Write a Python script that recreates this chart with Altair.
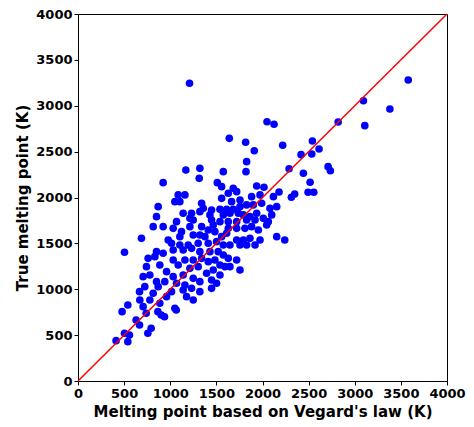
import altair as alt
import pandas as pd

# Melting point based on Vegard's law (K)
vegard_x = [
    # sparse upper / right points
    1209, 2049, 2125, 1640, 1817, 1911,
    3580, 3094, 3381, 3109, 2820, 2219, 2541, 2613, 2418, 2534, 2288, 2711, 2736, 2443,
    2516, 2179, 2494, 2556, 2313, 2349, 2241,
    # lower-left points
    667, 540, 478, 739, 866, 902, 938, 630, 667, 1065, 504, 558, 413, 540, 757, 793, 504,
    # dense core
    1828, 1169, 1321, 1575, 1821, 923, 1314, 1510, 1557, 1683, 1937, 2016, 1720, 1629,
    1086, 1159, 1557, 1104, 1050, 1665, 1756, 1882, 1973, 2118, 1340, 1358, 1448, 1539,
    1611, 1683, 1756, 1828, 1900, 1991, 2081, 2154, 869, 1140, 1231, 1321, 1430, 1575,
    1647, 1738, 1792, 1864, 1937, 2009, 2100, 851, 1068, 1213, 1249, 1448, 1466, 1539,
    1629, 1720, 1828, 1919, 2063, 815, 923, 1032, 1122, 1213, 1340, 1412, 1484, 1629,
    1720, 1810, 1882, 1955, 2045, 2154, 688, 978, 1104, 1249, 1321, 1376, 1557, 1611,
    1720, 1792, 1864, 1919, 1973, 851, 1014, 1104, 1195, 1303, 1412, 1502, 1575, 1647,
    1756, 1828, 760, 833, 923, 1032, 1140, 1231, 1321, 1430, 1520, 1575, 1629, 1720,
    1756, 1647, 742, 887, 1032, 1086, 1159, 1249, 1340, 1412, 1484, 1539, 1593, 706,
    960, 1032, 1140, 1213, 1303, 1394, 1466, 1539, 779, 851, 941, 1068, 1159, 1249,
    1321, 1448, 1502, 724, 815, 1014, 1140, 1231, 1321, 1448, 670, 706, 779, 887, 960,
    1050, 1177, 1249, 869,
]

# True melting point (K)
true_y = [
    3245, 2826, 2798, 2645, 2602, 2510,
    3281, 3055, 2965, 2783, 2823, 2569, 2616, 2529, 2467, 2474, 2314, 2336, 2292, 2264,
    2166, 2060, 2057, 2057, 2002, 2038, 1537,
    974, 829, 756, 738, 756, 720, 701, 665, 611, 774, 520, 502, 440, 429, 520, 574, 1403,
    2391, 2300, 2318, 2282, 2282, 2162, 2209, 2162, 2118, 2100, 2126, 2111, 2064, 2046,
    2028, 2028, 1991, 1955, 1955, 1955, 1973, 2009, 2028, 2009, 1937, 1882, 1864, 1871,
    1871, 1871, 1900, 1919, 1919, 1937, 1882, 1900, 1900, 1828, 1828, 1846, 1810, 1810,
    1828, 1828, 1810, 1791, 1828, 1773, 1810, 1791, 1737, 1773, 1755, 1755, 1701, 1737,
    1737, 1737, 1755, 1755, 1737, 1682, 1682, 1664, 1628, 1682, 1682, 1646, 1628, 1664,
    1664, 1664, 1682, 1646, 1701, 1573, 1555, 1537, 1573, 1592, 1592, 1573, 1573, 1610,
    1537, 1537, 1555, 1483, 1537, 1410, 1501, 1483, 1483, 1501, 1501, 1519, 1483, 1483,
    1483, 1483, 1337, 1355, 1392, 1428, 1428, 1446, 1410, 1410, 1410, 1374, 1337, 1319,
    1210, 1246, 1246, 1265, 1319, 1265, 1319, 1319, 1337, 1301, 1319, 1265, 1246, 1137,
    1192, 1137, 1156, 1228, 1246, 1174, 1210, 1156, 1156, 1083, 1083, 1065, 1047, 1119,
    1083, 1101, 1065, 1028, 956, 974, 992, 1010, 974, 1010, 883, 810, 883, 847, 919,
    792, 919, 883, 1028,
]

diag_x = [0, 4000]
diag_y = [0, 4000]
tick_values = [0, 500, 1000, 1500, 2000, 2500, 3000, 3500, 4000]

points_df = pd.DataFrame({"vegard": vegard_x, "true": true_y})
line_df = pd.DataFrame({"vegard": diag_x, "true": diag_y})

xscale = alt.Scale(domain=[0, 4000], nice=False, zero=False)
yscale = alt.Scale(domain=[0, 4000], nice=False, zero=False)

xaxis = alt.Axis(values=tick_values, format="d", title="Melting point based on Vegard's law (K)",
                 grid=False, titlePadding=4)
yaxis = alt.Axis(values=tick_values, format="d", title="True melting point (K)",
                 grid=False, titlePadding=5)

points = alt.Chart(points_df).mark_circle(size=58, color="#0000ff", opacity=1).encode(
    x=alt.X("vegard:Q", scale=xscale, axis=xaxis),
    y=alt.Y("true:Q", scale=yscale, axis=yaxis),
)

line = alt.Chart(line_df).mark_line(color="#ff0000", strokeWidth=1.5).encode(
    x=alt.X("vegard:Q", scale=xscale),
    y=alt.Y("true:Q", scale=yscale),
)

chart = alt.layer(points, line).properties(
    width=369,
    height=367,
    autosize=alt.AutoSizeParams(type="none"),
    padding={"left": 78, "top": 14, "right": 27, "bottom": 46},
).configure_view(
    stroke="black", strokeWidth=1
).configure_axis(
    labelFont="DejaVu Sans", labelFontSize=13, labelFontWeight="bold", labelColor="black",
    titleFont="DejaVu Sans", titleFontSize=15, titleFontWeight="bold", titleColor="black",
    domainColor="black", tickColor="black", tickSize=4, labelPadding=2, labelFlush=False,
)

chart.save("out.html", embed_options={"renderer": "svg", "actions": False})
